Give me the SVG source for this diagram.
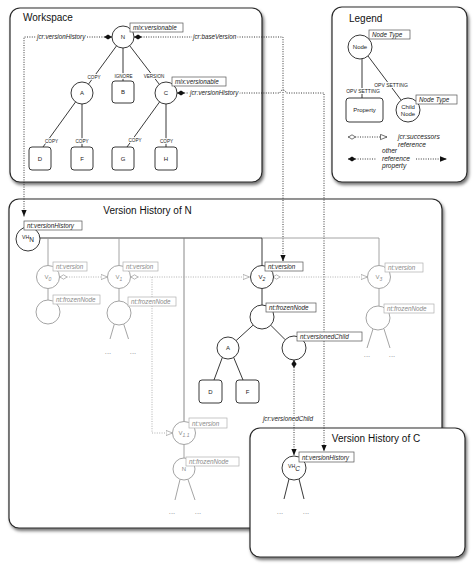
<svg xmlns="http://www.w3.org/2000/svg" width="474" height="569" viewBox="0 0 474 569">
<defs>
<filter id="sh" x="-10%" y="-10%" width="120%" height="125%"><feDropShadow dx="1.5" dy="2.5" stdDeviation="1.6" flood-color="#000" flood-opacity="0.55"/></filter>
<marker id="dF" viewBox="0 -3 9 6" refX="0" refY="0" markerWidth="9" markerHeight="6" markerUnits="userSpaceOnUse" orient="auto"><path d="M0,0 L4,-2.6 L8,0 L4,2.6 Z" fill="#111"/></marker>
<marker id="dO" viewBox="0 -3 9 6" refX="0" refY="0" markerWidth="9" markerHeight="6" markerUnits="userSpaceOnUse" orient="auto"><path d="M0.5,0 L4,-2.2 L7.5,0 L4,2.2 Z" fill="#fff" stroke="#9a9a9a" stroke-width="0.7"/></marker>
<marker id="dOk" viewBox="0 -3 9 6" refX="0" refY="0" markerWidth="9" markerHeight="6" markerUnits="userSpaceOnUse" orient="auto"><path d="M0.5,0 L4,-2.2 L7.5,0 L4,2.2 Z" fill="#fff" stroke="#333" stroke-width="0.7"/></marker>
<marker id="aF" viewBox="0 -3 7 6" refX="7" refY="0" markerWidth="7" markerHeight="6" markerUnits="userSpaceOnUse" orient="auto"><path d="M0,-2.8 L7,0 L0,2.8 Z" fill="#111"/></marker>
<marker id="aO" viewBox="-0.5 -3.5 8 7" refX="6.5" refY="0" markerWidth="8" markerHeight="7" markerUnits="userSpaceOnUse" orient="auto"><path d="M0,-2.6 L6.5,0 L0,2.6 Z" fill="#fff" stroke="#9a9a9a" stroke-width="0.7"/></marker>
<marker id="aOk" viewBox="-0.5 -3.5 8 7" refX="6.5" refY="0" markerWidth="8" markerHeight="7" markerUnits="userSpaceOnUse" orient="auto"><path d="M0,-2.6 L6.5,0 L0,2.6 Z" fill="#fff" stroke="#333" stroke-width="0.7"/></marker>
<style>
text{font-family:"Liberation Sans",Arial,Helvetica,sans-serif}
.box{fill:#fff;stroke:#2a2a2a;stroke-width:1.2;filter:url(#sh)}
.ttl{font-size:10px;fill:#111}
.nd{fill:#fff;stroke:#222;stroke-width:0.9}
.ng{fill:#fff;stroke:#9a9a9a;stroke-width:0.9}
.ld{fill:#fff;stroke:#555;stroke-width:0.7}
.lg{fill:#fff;stroke:#b0b0b0;stroke-width:0.7}
.tl{font-size:6.3px;font-style:italic;fill:#222}
.tlg{font-size:6.3px;font-style:italic;fill:#8a8a8a}
.nt{font-size:6px;fill:#222;text-anchor:middle}
.ntg{font-size:6px;fill:#8a8a8a;text-anchor:middle}
.el{font-size:4.6px;fill:#222;text-anchor:middle;paint-order:stroke;stroke:#fff;stroke-width:2px;stroke-linejoin:round}
.ln{fill:none;stroke:#222;stroke-width:0.9}
.lng{fill:none;stroke:#9a9a9a;stroke-width:0.9}
.lnm{fill:none;stroke:#7a7a7a;stroke-width:0.9}
.dt{fill:none;stroke:#222;stroke-width:0.9;stroke-dasharray:1 1.4}
.dtg{fill:none;stroke:#a8a8a8;stroke-width:0.9;stroke-dasharray:1 1.4}
.rl{font-size:6.3px;font-style:italic;fill:#222;paint-order:stroke;stroke:#fff;stroke-width:3px;stroke-linejoin:round}
.dots{font-size:7.5px;fill:#8a8a8a;text-anchor:middle}
</style>
</defs>

<g id="boxes">
<rect id="workspace" class="box" x="10" y="8" width="252" height="174" rx="10"/>
<rect id="legend-box" class="box" x="332" y="7" width="135" height="175" rx="10"/>
<rect id="vhn-box" class="box" x="9" y="199" width="433" height="329" rx="10"/>
<rect id="vhc-box" class="box" x="250" y="428" width="215" height="129" rx="10"/>
<text class="ttl" x="23" y="21">Workspace</text>
<text class="ttl" x="349" y="22">Legend</text>
<text class="ttl" x="147.5" y="214" text-anchor="middle">Version History of N</text>
<text class="ttl" x="376" y="442" text-anchor="middle">Version History of C</text>
</g>

<g id="connectors">
<line class="ln" x1="116.5" y1="45.9" x2="88.5" y2="84.1"/>
<line class="ln" x1="123" y1="48" x2="123" y2="81"/>
<line class="ln" x1="129.7" y1="45.7" x2="159.3" y2="84.3"/>
<line class="ln" x1="75.6" y1="101.9" x2="43" y2="147"/>
<line class="ln" x1="82" y1="104" x2="82" y2="147"/>
<line class="ln" x1="159.6" y1="101.9" x2="127" y2="147"/>
<line class="ln" x1="166" y1="104" x2="166" y2="147"/>
<text class="el" x="94" y="79">COPY</text>
<text class="el" x="123.5" y="78">IGNORE</text>
<text class="el" x="154" y="78">VERSION</text>
<text class="el" x="51.5" y="143">COPY</text>
<text class="el" x="82" y="143">COPY</text>
<text class="el" x="135" y="142">COPY</text>
<text class="el" x="166.5" y="143">COPY</text>
<path class="dt" d="M112,37 L24,37 L24,216.5" marker-start="url(#dF)" marker-end="url(#aF)"/>
<text class="rl" x="37" y="39">jcr:versionHistory</text>
<path class="dt" d="M134,37 L283,37 L283,261.5" marker-start="url(#dF)" marker-end="url(#aF)"/>
<text class="rl" x="193" y="39">jcr:baseVersion</text>
<path class="dt" d="M177,93 L280,93 A3,3 0 0 1 286,93 L324,93 L324,451.5" marker-start="url(#dF)" marker-end="url(#aF)"/>
<text class="rl" x="190" y="95">jcr:versionHistory</text>
<path class="dt" d="M294,360 L294,455.5" marker-start="url(#dF)" marker-end="url(#aF)"/>
<text class="rl" x="288" y="421" text-anchor="middle">jcr:versionedChild</text>
<path class="ln" d="M40,238 L262,238 L262,265.5"/>
<path class="lng" d="M262,238 L379,238 L379,265.5"/>
<line class="lng" x1="48" y1="238" x2="48" y2="265.5"/>
<line class="lng" x1="119" y1="238" x2="119" y2="265.5"/>
<line class="lnm" x1="184" y1="238" x2="184" y2="421.5"/>
<path class="dtg" d="M59.5,277 L107.5,277" marker-start="url(#dO)" marker-end="url(#aO)"/>
<path class="dtg" d="M130.5,277 L249.5,277" marker-start="url(#dO)" marker-end="url(#aO)"/>
<path class="dtg" d="M152,277 L152,433 L172.5,433" marker-end="url(#aO)"/>
<path class="dtg" d="M272.5,277 L367.5,277" marker-start="url(#dO)" marker-end="url(#aO)"/>
<line class="lng" x1="48" y1="288.5" x2="48" y2="300"/>
<line class="lng" x1="119" y1="288.5" x2="119" y2="301"/>
<line class="ln" x1="262" y1="288.5" x2="262" y2="305"/>
<line class="lng" x1="379" y1="288.5" x2="379" y2="306"/>
<line class="lng" x1="184" y1="444.5" x2="184" y2="458"/>
<line class="lng" x1="114.5" y1="323.5" x2="110" y2="339"/>
<line class="lng" x1="123.5" y1="323.5" x2="128.5" y2="339"/>
<line class="lng" x1="373" y1="329" x2="367" y2="348"/>
<line class="lng" x1="384" y1="329" x2="390" y2="348"/>
<line class="lng" x1="180" y1="479.5" x2="175" y2="500"/>
<line class="lng" x1="188" y1="479.5" x2="195" y2="500"/>
<line class="ln" x1="253.1" y1="325.1" x2="236.1" y2="340.6"/>
<line class="ln" x1="270.7" y1="325.2" x2="285.3" y2="339.8"/>
<line class="ln" x1="222.5" y1="357" x2="214" y2="380"/>
<line class="ln" x1="233.5" y1="357" x2="243" y2="380"/>
<line class="ln" x1="289" y1="479" x2="284" y2="499"/>
<line class="ln" x1="299" y1="479" x2="304" y2="499"/>
<text class="dots" x="108" y="354">...</text>
<text class="dots" x="133" y="354">...</text>
<text class="dots" x="367" y="357">...</text>
<text class="dots" x="392" y="357">...</text>
<text class="dots" x="172" y="514">...</text>
<text class="dots" x="198" y="514">...</text>
<text class="dots" x="280" y="514" fill="#444">...</text>
<text class="dots" x="306" y="514" fill="#444">...</text>
</g>

<g id="ws-N"><circle class="nd" cx="123" cy="37" r="11"/><text class="nt" x="123" y="39.2">N</text>
<rect class="ld" x="130" y="23" width="53" height="9"/><text class="tl" x="133" y="30">mix:versionable</text></g>
<g id="ws-A"><circle class="nd" cx="82" cy="93" r="11"/><text class="nt" x="82" y="95.2">A</text></g>
<g id="ws-B"><rect class="nd" x="112" y="81" width="22" height="22" rx="3"/><text class="nt" x="123" y="94.2">B</text></g>
<g id="ws-C"><circle class="nd" cx="166" cy="93" r="11"/><text class="nt" x="166" y="95.2">C</text>
<rect class="ld" x="172" y="77" width="54" height="9"/><text class="tl" x="175" y="84">mix:versionable</text></g>
<g id="ws-D"><rect class="nd" x="29" y="147" width="22" height="23" rx="3"/><text class="nt" x="40" y="160.7">D</text></g>
<g id="ws-F"><rect class="nd" x="71" y="147" width="22" height="23" rx="3"/><text class="nt" x="82" y="160.7">F</text></g>
<g id="ws-G"><rect class="nd" x="112" y="147" width="22" height="23" rx="3"/><text class="nt" x="123" y="160.7">G</text></g>
<g id="ws-H"><rect class="nd" x="155" y="147" width="22" height="23" rx="3"/><text class="nt" x="166" y="160.7">H</text></g>

<g id="legend">
<line class="ln" x1="362" y1="58.8" x2="362" y2="98"/>
<line class="ln" x1="368" y1="56" x2="401" y2="100"/>
<text class="el" x="363" y="92.5" style="font-size:5px">OPV SETTING</text>
<text class="el" x="391" y="87" style="font-size:5px">OPV SETTING</text>
<circle class="nd" cx="360" cy="47" r="12"/><text class="nt" x="360" y="49.2">Node</text>
<rect class="ld" x="369" y="30" width="41" height="9"/><text class="tl" x="372" y="37">Node Type</text>
<rect class="nd" x="346" y="98" width="37" height="24" rx="3"/><text class="nt" x="364.5" y="112.2">Property</text>
<circle class="nd" cx="408" cy="110" r="12"/><text class="nt" x="408" y="109">Child</text><text class="nt" x="408" y="116">Node</text>
<rect class="ld" x="416" y="95" width="41" height="9"/><text class="tl" x="419" y="102">Node Type</text>
<path class="dt" d="M348,137 L387,137" stroke="#333" marker-start="url(#dOk)" marker-end="url(#aOk)"/>
<text class="tl" x="398" y="139" style="font-size:6.6px">jcr:successors</text>
<text class="tl" x="398" y="146.5" style="font-size:6.6px">reference</text>
<path class="dt" d="M348,159 L376,159" marker-start="url(#dF)"/>
<path class="dt" d="M416,159 L447,159" marker-end="url(#aF)"/>
<text class="tl" x="382" y="153" style="font-size:6.6px">other</text>
<text class="tl" x="382" y="160.5" style="font-size:6.6px">reference</text>
<text class="tl" x="382" y="168" style="font-size:6.6px">property</text>
</g>

<g id="VHN"><circle class="nd" cx="28" cy="239" r="12"/>
<text x="28" y="239" class="nt"><tspan font-size="5.2">VH</tspan><tspan font-size="6.5" dy="3">N</tspan></text>
<rect class="ld" x="24" y="221" width="58" height="9"/><text class="tl" x="27" y="228">nt:versionHistory</text></g>

<g id="V0"><circle class="ng" cx="48" cy="277" r="11.5"/>
<text x="48" y="279" class="ntg"><tspan>V</tspan><tspan font-size="5" font-style="italic" dy="2">0</tspan></text>
<rect class="lg" x="53" y="262" width="34" height="9"/><text class="tlg" x="56" y="269">nt:version</text></g>
<g id="V0-frozen"><circle class="ng" cx="48" cy="312" r="12"/>
<rect class="lg" x="53" y="295" width="47" height="9"/><text class="tlg" x="56" y="302">nt:frozenNode</text></g>

<g id="V1"><circle class="ng" cx="119" cy="277" r="11.5"/>
<text x="119" y="279" class="ntg"><tspan>V</tspan><tspan font-size="5" font-style="italic" dy="2">1</tspan></text>
<rect class="lg" x="123" y="262" width="35" height="9"/><text class="tlg" x="126" y="269">nt:version</text></g>
<g id="V1-frozen"><circle class="ng" cx="119" cy="313" r="12"/>
<rect class="lg" x="128" y="297" width="48" height="9"/><text class="tlg" x="131" y="304">nt:frozenNode</text></g>

<g id="V2"><circle class="nd" cx="262" cy="277" r="11.5"/>
<text x="262" y="279" class="nt"><tspan>V</tspan><tspan font-size="5" font-style="italic" dy="2">2</tspan></text>
<rect class="ld" x="265" y="262" width="38" height="9"/><text class="tl" x="268" y="269">nt:version</text></g>
<g id="V2-frozen"><circle class="nd" cx="262" cy="317" r="12"/>
<rect class="ld" x="266" y="303" width="50" height="9"/><text class="tl" x="269" y="310">nt:frozenNode</text></g>
<g id="V2-A"><circle class="nd" cx="228" cy="348" r="11"/><text class="nt" x="228" y="350.2">A</text></g>
<g id="V2-child"><circle class="nd" cx="294" cy="348" r="12"/>
<rect class="ld" x="297" y="332" width="65" height="9"/><text class="tl" x="300" y="339">nt:versionedChild</text></g>
<g id="V2-D"><rect class="nd" x="199" y="380" width="23" height="23" rx="3"/><text class="nt" x="210.5" y="393.7">D</text></g>
<g id="V2-F"><rect class="nd" x="236" y="380" width="23" height="23" rx="3"/><text class="nt" x="247.5" y="393.7">F</text></g>

<g id="V3"><circle class="ng" cx="379" cy="277" r="11.5"/>
<text x="379" y="279" class="ntg"><tspan>V</tspan><tspan font-size="5" font-style="italic" dy="2">3</tspan></text>
<rect class="lg" x="385" y="263" width="38" height="9"/><text class="tlg" x="388" y="270">nt:version</text></g>
<g id="V3-frozen"><circle class="ng" cx="378" cy="318" r="12"/>
<rect class="lg" x="384" y="304" width="50" height="9"/><text class="tlg" x="387" y="311">nt:frozenNode</text></g>

<g id="V11"><circle class="ng" cx="184" cy="433" r="11.5"/>
<text x="184" y="435" class="ntg"><tspan>V</tspan><tspan font-size="5" font-style="italic" dy="2">1.1</tspan></text>
<rect class="lg" x="189" y="418" width="38" height="10"/><text class="tlg" x="192" y="425.5">nt:version</text></g>
<g id="V11-frozen"><circle class="ng" cx="184" cy="469" r="11"/><text class="ntg" x="184" y="471.2">N</text>
<rect class="lg" x="186" y="457" width="53" height="9"/><text class="tlg" x="189" y="464">nt:frozenNode</text></g>

<g id="VHC"><circle class="nd" cx="294" cy="468" r="12"/>
<text x="294" y="468" class="nt"><tspan font-size="5.2">VH</tspan><tspan font-size="6.5" font-style="italic" dy="3">C</tspan></text>
<rect class="ld" x="299" y="452" width="55" height="10"/><text class="tl" x="302" y="459.5">nt:versionHistory</text></g>
</svg>
